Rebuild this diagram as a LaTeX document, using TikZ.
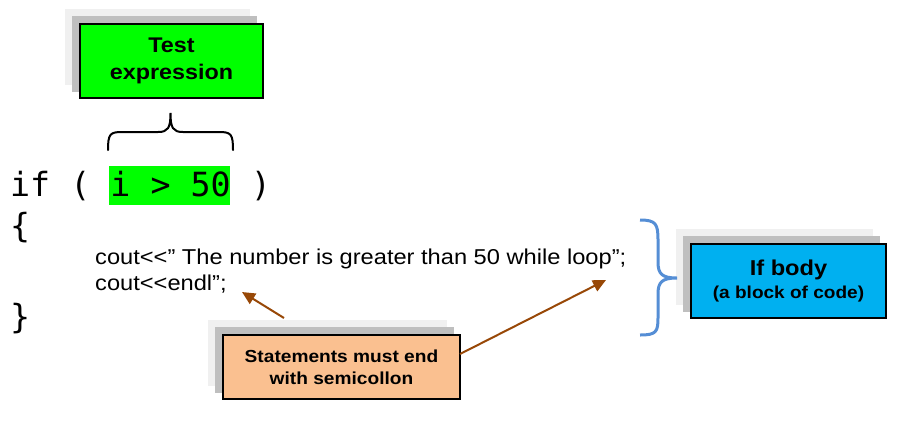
\documentclass[tikz,border=0pt]{standalone}
\usepackage{fontspec}
\setmainfont{Liberation Sans}[FakeStretch=1.1]
\newfontfamily\codemono{DejaVu Sans Mono}
\usetikzlibrary{arrows.meta,backgrounds,calc}
\definecolor{brgreen}{RGB}{0,255,0}
\definecolor{peach}{RGB}{250,192,144}
\definecolor{skyblue}{RGB}{0,176,240}
\definecolor{arrowbrown}{RGB}{152,72,7}
\definecolor{braceblue}{RGB}{85,142,213}
\begin{document}
\begin{tikzpicture}[x=1pt,y=-1pt,
  box/.style={draw=black,line width=1.5pt,inner sep=0pt,align=center,text=black},
  shdark/.style={fill=black!25},
  shlight/.style={fill=black!6},
  callout/.style={draw=arrowbrown,line width=2pt,-{Triangle[length=13pt,width=12pt]}},
  codetext/.style={anchor=base west,inner sep=0pt,font=\codemono\fontsize{33.3}{40}\selectfont},
  stmt/.style={anchor=base west,inner sep=0pt,font=\fontsize{21.5}{26}\selectfont},
]
\useasboundingbox (0,0) rectangle (901,421);

% highlight behind test expression
\fill[brgreen] (109,166) rectangle (230,205);

% code
\node[codetext] (ifl) at (10,196) {if ( i > 50 )};
\node[codetext] (obr) at (10,237) {\{};
\node[codetext] (cbr) at (10,328) {\}};
\node[stmt] (c1) at (95,264) {cout<\kern0pt<” The number is greater than 50 while loop”;};
\node[stmt] (c2) at (95,290) {cout<\kern0pt<endl”;};

% boxes
\node[box,fill=brgreen,minimum width=183pt,minimum height=74pt,
  font=\bfseries\fontsize{21.2}{27}\selectfont] (g) at (171.5,61) {Test\\expression};
\node[box,fill=peach,minimum width=237pt,minimum height=64pt,
  font=\bfseries\fontsize{17.4}{22}\selectfont] (o) at (341.5,367) {Statements must end\\with semicollon};
\node[box,fill=skyblue,minimum width=195pt,minimum height=74pt,
  font=\bfseries\fontsize{21.5}{23}\selectfont] (b) at (788.5,281)
  {If body\\{\fontsize{17.3}{20}\selectfont (a block of code)}};

% shadows
\begin{scope}[on background layer]
\foreach \n in {g,o,b}{
  \fill[shlight] ($(\n.north west)+(-14,-14)$) rectangle ($(\n.south east)+(-14,-14)$);
  \fill[shdark] ($(\n.north west)+(-7,-7)$) rectangle ($(\n.south east)+(-7,-7)$);
}
\end{scope}

% braces
\draw[line width=2pt,line cap=round] (108,150) .. controls (108,134) and (110,132) .. (122,132)
  -- (158,132) .. controls (168,132) and (170.5,128) .. (170.5,113)
  .. controls (170.5,128) and (173,132) .. (183,132)
  -- (219,132) .. controls (231,132) and (233,134) .. (233,150);
\draw[braceblue,line width=3pt] (640,220) .. controls (656,220) and (658,224) .. (658,240)
  -- (658,262) .. controls (658,274) and (662,278) .. (677,278)
  .. controls (662,278) and (658,282) .. (658,294)
  -- (658,318) .. controls (658,332) and (656,335) .. (640,335);

% callouts
\coordinate (a1s) at (284,318);
\coordinate (a1e) at (242,292);
\coordinate (a2s) at (460,354);
\coordinate (a2e) at (606,280);
\draw[callout] (a1s) -- (a1e);
\draw[callout] (a2s) -- (a2e);
\end{tikzpicture}
\end{document}
